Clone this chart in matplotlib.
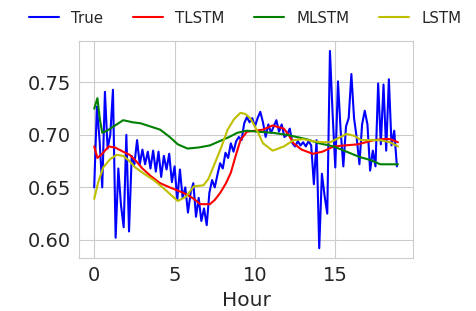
import numpy as np
import matplotlib
matplotlib.use("Agg")
import matplotlib.pyplot as plt
import seaborn as sns

# ---------------------------------------------------------------- data
# observed series, one value every 10 minutes
true_vals = [0.650, 0.727, 0.695, 0.650, 0.741, 0.687, 0.700, 0.743, 0.602, 0.668,
             0.633, 0.612, 0.700, 0.608, 0.680, 0.672, 0.695, 0.672, 0.686, 0.672,
             0.684, 0.668, 0.685, 0.665, 0.684, 0.660, 0.680, 0.667, 0.682, 0.655,
             0.670, 0.638, 0.667, 0.640, 0.650, 0.626, 0.645, 0.654, 0.622, 0.640,
             0.618, 0.630, 0.614, 0.645, 0.657, 0.650, 0.662, 0.673, 0.668, 0.683,
             0.678, 0.692, 0.684, 0.694, 0.698, 0.695, 0.711, 0.717, 0.712, 0.716,
             0.708, 0.716, 0.722, 0.712, 0.698, 0.710, 0.702, 0.708, 0.714, 0.703,
             0.710, 0.698, 0.700, 0.706, 0.692, 0.689, 0.694, 0.690, 0.693, 0.689,
             0.694, 0.690, 0.653, 0.695, 0.592, 0.663, 0.642, 0.625, 0.780, 0.720,
             0.669, 0.751, 0.704, 0.670, 0.708, 0.716, 0.758, 0.716, 0.697, 0.672,
             0.710, 0.723, 0.710, 0.666, 0.685, 0.670, 0.749, 0.691, 0.748, 0.685,
             0.753, 0.690, 0.704, 0.670]
hours = np.arange(len(true_vals)) / 6.0

# model predictions (read at coarser points)
tlstm_x = [0.0, 0.2, 0.5, 0.9, 1.3, 1.8, 2.2, 2.55, 3.0, 3.5, 4.1, 4.7, 5.35, 5.8, 6.2, 6.6,
           7.2, 7.5, 7.85, 8.2, 8.5, 8.8, 9.1, 9.5, 10.0, 10.5, 11.1, 11.8, 12.1, 12.4, 12.9,
           13.6, 14.2, 14.9, 15.6, 16.4, 17.4, 18.0, 18.4, 18.9]
tlstm_y = [0.689, 0.678, 0.682, 0.689, 0.688, 0.684, 0.681, 0.676, 0.668, 0.661, 0.654, 0.650,
           0.646, 0.643, 0.639, 0.634, 0.634, 0.638, 0.645, 0.654, 0.664, 0.680, 0.695, 0.703,
           0.704, 0.705, 0.709, 0.706, 0.700, 0.692, 0.686, 0.682, 0.684, 0.689, 0.690, 0.691,
           0.695, 0.696, 0.696, 0.693]

mlstm_x = [0.0, 0.2, 0.35, 0.5, 0.8, 1.2, 1.8, 2.4, 2.9, 3.5, 4.1, 4.7, 5.2, 5.8, 6.5, 7.2,
           7.8, 8.4, 8.9, 9.5, 10.2, 11.1, 12.0, 12.6, 13.2, 14.0, 14.9, 15.7, 16.5, 17.2,
           17.8, 18.4, 18.9]
mlstm_y = [0.725, 0.735, 0.715, 0.702, 0.704, 0.708, 0.714, 0.712, 0.711, 0.708, 0.705, 0.698,
           0.691, 0.687, 0.688, 0.690, 0.694, 0.698, 0.702, 0.704, 0.703, 0.702, 0.700, 0.698,
           0.696, 0.692, 0.689, 0.684, 0.679, 0.676, 0.672, 0.672, 0.672]

lstm_x = [0.0, 0.25, 0.56, 1.0, 1.4, 1.8, 2.2, 2.55, 3.1, 3.7, 4.4, 5.2, 5.7, 6.2, 6.8, 7.1,
          7.4, 7.9, 8.3, 8.7, 9.1, 9.4, 9.7, 9.9, 10.2, 10.5, 11.1, 11.8, 12.4, 13.0, 13.6,
          14.2, 14.7, 15.2, 15.7, 16.2, 16.6, 17.2, 17.8, 18.4, 18.9]
lstm_y = [0.639, 0.655, 0.669, 0.677, 0.681, 0.680, 0.675, 0.669, 0.663, 0.657, 0.648, 0.637,
          0.641, 0.651, 0.652, 0.658, 0.669, 0.688, 0.705, 0.715, 0.721, 0.720, 0.716, 0.711,
          0.702, 0.692, 0.685, 0.689, 0.695, 0.696, 0.694, 0.693, 0.693, 0.697, 0.701, 0.699,
          0.695, 0.695, 0.695, 0.693, 0.689]

labels = ["True", "TLSTM", "MLSTM", "LSTM"]
colors = ["#0000ff", "#ff0000", "#008000", "#bfbf00"]

# ---------------------------------------------------------------- plot
sns.set_style("whitegrid")
fig = plt.figure(figsize=(4.76, 3.11), dpi=100)
ax = fig.add_axes([0.166, 0.170, 0.702, 0.698])

ax.plot(hours, true_vals, color=colors[0], lw=1.5, label=labels[0])
ax.plot(tlstm_x, tlstm_y, color=colors[1], lw=1.5, label=labels[1])
ax.plot(mlstm_x, mlstm_y, color=colors[2], lw=1.5, label=labels[2])
ax.plot(lstm_x, lstm_y, color=colors[3], lw=1.5, label=labels[3])

ax.set_xticks([0, 5, 10, 15])
ax.set_yticks([0.60, 0.65, 0.70, 0.75])
ax.tick_params(labelsize=14, colors=".15", length=0, pad=6)
ax.set_xlabel("Hour", fontsize=14.5, color=".15", labelpad=4)

fig.legend(loc="center", bbox_to_anchor=(245 / 476, 0.942), ncol=4,
           frameon=False, fontsize=10.8)

fig.savefig("out.png", dpi=100)
